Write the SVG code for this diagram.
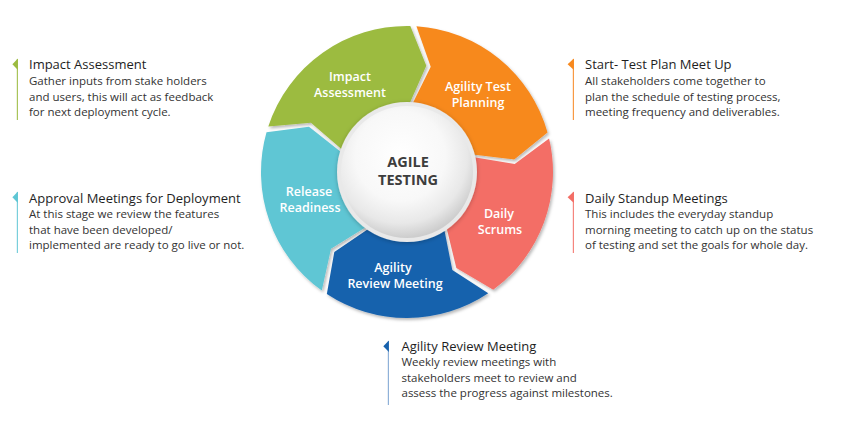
<svg xmlns="http://www.w3.org/2000/svg" width="846" height="426" viewBox="0 0 846 426">
<defs>
<filter id="sh" x="-10%" y="-10%" width="125%" height="125%">
<feDropShadow dx="1.5" dy="2" stdDeviation="1.6" flood-color="#000" flood-opacity="0.28"/>
</filter>
<filter id="sh2" x="-20%" y="-20%" width="140%" height="140%">
<feDropShadow dx="0" dy="1" stdDeviation="2" flood-color="#000" flood-opacity="0.25"/>
</filter>
<radialGradient id="disk" cx="0.45" cy="0.38" r="0.62">
<stop offset="0" stop-color="#ffffff"/>
<stop offset="0.55" stop-color="#f8f8f8"/>
<stop offset="0.82" stop-color="#e8e8e8"/>
<stop offset="1" stop-color="#cdcdcd"/>
</radialGradient>
</defs>
<style>
.seg{filter:url(#sh)}
.lbl{font-family:"Open Sans","Liberation Sans",sans-serif;font-weight:600;font-size:12.5px;fill:#fff;text-anchor:middle}
.ctr{font-family:"Open Sans","Liberation Sans",sans-serif;font-weight:700;font-size:14.5px;fill:#3d3d3d;text-anchor:middle}
.ttl{font-family:"Open Sans","Liberation Sans",sans-serif;font-size:13px;fill:#1e1e1e}
.bdy{font-family:"Open Sans","Liberation Sans",sans-serif;font-size:11.5px;fill:#333}
.ln{stroke-width:1.2;fill:none}
</style>
<rect width="846" height="426" fill="#fff"/>

<g id="impact-assessment">
<path class="seg" fill="#9cbb41" d="M268.30,126.40 A146,146 0 0 1 410.31,26.04 L426.31,65.74 L408.50,106.02 A66,66 0 0 0 344.30,151.39 L310.94,122.64 Z"/>
<text class="lbl" x="350" y="80.5">Impact</text>
<text class="lbl" x="350" y="97">Assessment</text>
</g>
<g id="agility-test-planning">
<path class="seg" fill="#f7891f" d="M416.42,26.30 A146,146 0 0 1 547.55,132.49 L514.26,159.40 L470.54,154.14 A66,66 0 0 0 411.26,106.14 L430.74,66.64 Z"/>
<text class="lbl" x="478" y="91">Agility Test</text>
<text class="lbl" x="478" y="107">Planning</text>
</g>
<g id="daily-scrums">
<path class="seg" fill="#f36e66" d="M549.08,138.41 A146,146 0 0 1 493.23,289.82 L456.37,268.06 L445.98,225.26 A66,66 0 0 0 471.23,156.82 L514.70,163.90 Z"/>
<text class="lbl" x="499" y="218">Daily</text>
<text class="lbl" x="500" y="234">Scrums</text>
</g>
<g id="agility-review-meeting">
<path class="seg" fill="#1762ad" d="M488.22,293.32 A146,146 0 0 1 326.84,294.03 L334.31,251.88 L370.76,227.16 A66,66 0 0 0 443.72,226.84 L452.30,270.04 Z"/>
<text class="lbl" x="393" y="272">Agility</text>
<text class="lbl" x="395" y="288">Review Meeting</text>
</g>
<g id="release-readiness">
<path class="seg" fill="#5ec6d4" d="M321.80,290.56 A146,146 0 0 1 266.52,132.25 L308.96,126.70 L343.49,154.03 A66,66 0 0 0 368.49,225.60 L331.03,248.77 Z"/>
<text class="lbl" x="309" y="196">Release</text>
<text class="lbl" x="310" y="212">Readiness</text>
</g>

<g id="agile-testing">
<circle cx="407" cy="172" r="70" fill="#e9e9e9" filter="url(#sh2)"/>
<circle cx="407" cy="172" r="66" fill="url(#disk)"/>
<text class="ctr" x="408" y="167">AGILE</text>
<text class="ctr" x="408" y="185">TESTING</text>
</g>

<g id="note-impact-assessment">
<line class="ln" x1="17.4" y1="59" x2="17.4" y2="120" stroke="#a9c45a"/>
<polygon points="17.9,58.5 17.9,70 12.4,64.2" fill="#9cbb41"/>
<text class="ttl" x="29" y="69">Impact Assessment</text>
<text class="bdy" x="29" y="85">Gather inputs from stake holders</text>
<text class="bdy" x="29" y="100.5">and users, this will act as feedback</text>
<text class="bdy" x="29" y="116">for next deployment cycle.</text>
</g>
<g id="note-approval-meetings">
<line class="ln" x1="17.4" y1="192" x2="17.4" y2="253" stroke="#79cfdb"/>
<polygon points="17.9,191.5 17.9,203 12.4,197.2" fill="#5ec6d4"/>
<text class="ttl" x="29" y="202.5">Approval Meetings for Deployment</text>
<text class="bdy" x="29" y="218">At this stage we review the features</text>
<text class="bdy" x="29" y="233.5">that have been developed/</text>
<text class="bdy" x="29" y="249">implemented are ready to go live or not.</text>
</g>
<g id="note-test-plan-meet-up">
<line class="ln" x1="573.4" y1="59" x2="573.4" y2="120" stroke="#f89a44"/>
<polygon points="573.9,58.5 573.9,70 567.6,64.2" fill="#f7891f"/>
<text class="ttl" x="585" y="69">Start- Test Plan Meet Up</text>
<text class="bdy" x="585" y="85">All stakeholders come together to</text>
<text class="bdy" x="585" y="100.5">plan the schedule of testing process,</text>
<text class="bdy" x="585" y="116">meeting frequency and deliverables.</text>
</g>
<g id="note-daily-standup">
<line class="ln" x1="573.4" y1="192" x2="573.4" y2="253" stroke="#f5857e"/>
<polygon points="573.9,191.5 573.9,203 567.6,197.2" fill="#f36e66"/>
<text class="ttl" x="585" y="202.5">Daily Standup Meetings</text>
<text class="bdy" x="585" y="218">This includes the everyday standup</text>
<text class="bdy" x="585" y="233.5">morning meeting to catch up on the status</text>
<text class="bdy" x="585" y="249">of testing and set the goals for whole day.</text>
</g>
<g id="note-agility-review">
<line class="ln" x1="388.4" y1="341" x2="388.4" y2="405" stroke="#8fb1d8"/>
<polygon points="388.9,340.5 388.9,352 383.3,346.2" fill="#1762ad"/>
<text class="ttl" x="401.5" y="350.5">Agility Review Meeting</text>
<text class="bdy" x="401.5" y="366">Weekly review meetings with</text>
<text class="bdy" x="401.5" y="381.5">stakeholders meet to review and</text>
<text class="bdy" x="401.5" y="397">assess the progress against milestones.</text>
</g>
</svg>
